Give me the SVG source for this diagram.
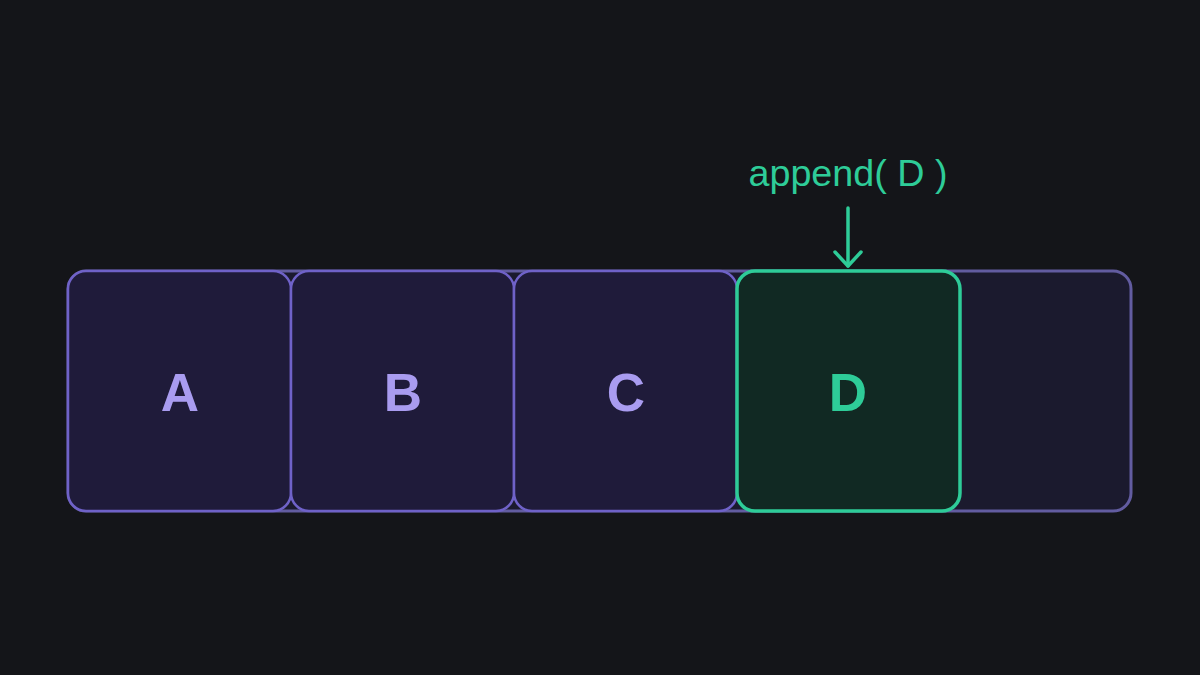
<svg xmlns="http://www.w3.org/2000/svg" width="1200" height="675" viewBox="0 0 1200 675">
<style>
.cell{fill:#1f1b3a;stroke:#6f62c8;stroke-width:2.5}
.lbl{font-family:"Liberation Sans",Arial,sans-serif;font-weight:bold;font-size:53px;text-anchor:middle;fill:#a99cf0}
.conn{fill:none;stroke:#2ecc98;stroke-width:3.5;stroke-linecap:round;stroke-linejoin:round}
</style>
<rect width="1200" height="675" fill="#141519"/>
<g id="array"><rect x="68" y="271" width="1063" height="240" rx="18" fill="#1b1a2e" stroke="#625ca0" stroke-width="3"/></g>
<g id="A"><rect class="cell" x="68" y="271" width="223" height="240" rx="18"/><text class="lbl" x="180" y="411">A</text></g>
<g id="B"><rect class="cell" x="291" y="271" width="223" height="240" rx="18"/><text class="lbl" x="403" y="411">B</text></g>
<g id="C"><rect class="cell" x="514" y="271" width="223" height="240" rx="18"/><text class="lbl" x="626" y="411">C</text></g>
<g id="D"><rect x="737" y="271" width="223" height="240" rx="18" fill="#112923" stroke="#2ecc98" stroke-width="3.5"/><text class="lbl" x="848" y="411" style="fill:#2ecc98">D</text></g>
<g id="op"><text x="848" y="186" font-family="'Liberation Sans',Arial,sans-serif" font-size="37.7" fill="#2ecc98" text-anchor="middle">append( D )</text></g>
<g id="connectors"><line class="conn" x1="848" y1="208" x2="848" y2="266"/><polyline class="conn" points="835,252 848,266 861,252"/></g>
</svg>
